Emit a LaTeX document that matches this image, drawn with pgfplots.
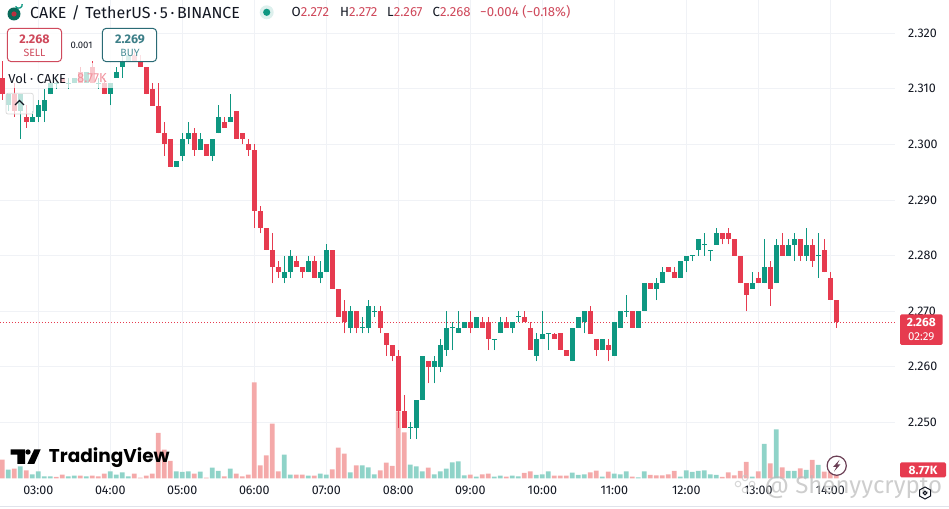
\documentclass[border=0pt]{standalone}
\usepackage{pgfplots}
\pgfplotsset{compat=1.18}
\usepackage{pgfplotstable}
\usepackage{fontspec}
\setmainfont{Fira Sans}
\newfontfamily\logofont{Poppins}
\definecolor{cred}{HTML}{E63B4F}
\definecolor{cgreen}{HTML}{0E9781}
\definecolor{vred}{HTML}{F4A9A9}
\definecolor{vgreen}{HTML}{8FD3C8}
\definecolor{gridc}{HTML}{F0F2F6}
\definecolor{ink}{HTML}{131722}
\definecolor{numred}{HTML}{CF4A5C}
\definecolor{buyline}{HTML}{2A6B75}
\definecolor{buytext}{HTML}{3D7F88}
\definecolor{buytextb}{HTML}{4A8F97}
\definecolor{badge}{HTML}{6B3F55}
\definecolor{sepline}{HTML}{E0E3EB}
\pgfplotstableread{
i o h l c
-6 2.312 2.315 2.308 2.309
-4 2.309 2.311 2.305 2.306
-2 2.305 2.307 2.303 2.304
4 2.312 2.312 2.311 2.311
7 2.313 2.314 2.311 2.311
9 2.314 2.315 2.311 2.311
11 2.311 2.312 2.309 2.309
16 2.316 2.317 2.315 2.315
17 2.315 2.316 2.314 2.314
18 2.314 2.314 2.309 2.309
19 2.310 2.311 2.307 2.307
20 2.307 2.311 2.302 2.302
21 2.302 2.304 2.298 2.300
22 2.301 2.301 2.296 2.296
26 2.302 2.303 2.298 2.299
28 2.300 2.300 2.298 2.298
31 2.304 2.305 2.303 2.303
33 2.306 2.306 2.301 2.301
34 2.302 2.302 2.300 2.301
35 2.300 2.301 2.298 2.299
36 2.299 2.300 2.285 2.288
37 2.288 2.289 2.284 2.285
38 2.285 2.285 2.281 2.281
39 2.281 2.284 2.275 2.278
40 2.278 2.279 2.276 2.277
43 2.279 2.280 2.278 2.278
44 2.278 2.278 2.276 2.277
46 2.279 2.280 2.276 2.276
49 2.281 2.281 2.274 2.274
50 2.274 2.274 2.269 2.269
51 2.270 2.272 2.266 2.268
53 2.270 2.270 2.266 2.267
57 2.270 2.271 2.266 2.267
58 2.266 2.266 2.262 2.264
59 2.264 2.264 2.261 2.262
60 2.262 2.263 2.249 2.252
61 2.252 2.255 2.249 2.249
65 2.261 2.261 2.257 2.260
72 2.268 2.270 2.266 2.267
74 2.268 2.269 2.267 2.267
75 2.268 2.269 2.263 2.265
78 2.268 2.269 2.267 2.267
81 2.269 2.270 2.268 2.268
82 2.267 2.268 2.263 2.263
86 2.266 2.266 2.265 2.265
87 2.266 2.266 2.263 2.263
88 2.263 2.263 2.262 2.262
92 2.270 2.271 2.266 2.266
93 2.265 2.265 2.262 2.263
95 2.264 2.265 2.261 2.263
99 2.270 2.270 2.267 2.267
102 2.275 2.275 2.274 2.274
105 2.278 2.278 2.277 2.277
106 2.277 2.278 2.276 2.276
114 2.284 2.284 2.282 2.283
115 2.284 2.285 2.282 2.283
116 2.283 2.283 2.280 2.280
117 2.280 2.280 2.275 2.275
118 2.275 2.275 2.270 2.273
120 2.276 2.277 2.275 2.275
122 2.278 2.279 2.271 2.274
124 2.282 2.284 2.280 2.280
127 2.283 2.283 2.279 2.280
129 2.282 2.283 2.278 2.279
131 2.281 2.283 2.277 2.277
132 2.276 2.277 2.272 2.272
133 2.272 2.272 2.267 2.268
}\downcandles
\pgfplotstableread{
i o h l c
-5 2.307 2.309 2.306 2.309
-3 2.306 2.309 2.301 2.309
-1 2.304 2.306 2.304 2.305
0 2.305 2.308 2.304 2.307
1 2.306 2.310 2.304 2.308
2 2.309 2.311 2.309 2.311
6 2.311 2.312 2.311 2.312
8 2.311 2.313 2.311 2.313
12 2.309 2.311 2.307 2.311
13 2.312 2.314 2.312 2.313
14 2.314 2.316 2.312 2.315
15 2.315 2.316 2.315 2.316
23 2.296 2.297 2.296 2.297
24 2.298 2.302 2.297 2.301
25 2.301 2.304 2.300 2.302
27 2.299 2.302 2.299 2.301
29 2.298 2.301 2.297 2.301
30 2.302 2.307 2.302 2.305
32 2.304 2.309 2.304 2.305
41 2.276 2.280 2.275 2.277
42 2.277 2.281 2.276 2.280
45 2.277 2.280 2.277 2.279
47 2.276 2.279 2.275 2.277
48 2.277 2.282 2.277 2.281
52 2.267 2.271 2.266 2.270
55 2.267 2.272 2.266 2.271
63 2.249 2.254 2.247 2.254
64 2.254 2.262 2.254 2.262
66 2.260 2.262 2.257 2.261
67 2.260 2.265 2.259 2.264
68 2.263 2.270 2.262 2.267
70 2.266 2.270 2.266 2.267
71 2.267 2.268 2.267 2.268
73 2.267 2.269 2.267 2.269
77 2.266 2.269 2.266 2.268
79 2.267 2.268 2.266 2.268
83 2.262 2.266 2.261 2.265
84 2.265 2.270 2.265 2.266
89 2.261 2.267 2.261 2.267
90 2.267 2.269 2.267 2.269
91 2.268 2.270 2.266 2.270
94 2.263 2.265 2.263 2.265
96 2.262 2.268 2.262 2.268
97 2.267 2.270 2.267 2.270
100 2.267 2.270 2.267 2.270
101 2.270 2.275 2.270 2.275
103 2.274 2.276 2.272 2.275
104 2.275 2.278 2.275 2.277
107 2.276 2.279 2.276 2.279
108 2.279 2.280 2.277 2.280
110 2.281 2.283 2.280 2.283
113 2.282 2.285 2.282 2.284
119 2.274 2.277 2.274 2.275
121 2.275 2.283 2.275 2.278
123 2.275 2.283 2.275 2.282
125 2.280 2.283 2.280 2.282
126 2.282 2.284 2.279 2.283
128 2.280 2.285 2.279 2.282
}\upcandles
\pgfplotstableread{
i p h l
3 2.311 2.312 2.310
5 2.311 2.312 2.310
10 2.311 2.312 2.310
54 2.267 2.269 2.266
56 2.270 2.271 2.269
62 2.249 2.250 2.247
69 2.267 2.268 2.263
76 2.265 2.265 2.263
80 2.269 2.270 2.268
85 2.266 2.266 2.263
98 2.270 2.273 2.269
109 2.280 2.280 2.279
111 2.282 2.284 2.280
112 2.281 2.281 2.279
130 2.280 2.284 2.276
}\dojis
\pgfplotstableread{
i v
-6 29.7
-4 15.4
-2 12.7
3 2.1
4 5.8
7 4.2
9 4.2
10 3.2
11 7.4
16 7.4
17 1.1
18 4.2
19 7.4
20 72.1
21 45.6
22 27.6
26 7.4
28 1.1
31 3.2
33 7.4
34 3.2
35 5.8
36 152.6
37 20.7
38 36.6
39 86.9
40 11.1
43 5.8
44 5.8
46 4.2
49 14.3
50 48.8
51 39.2
53 20.7
57 12.7
58 24.9
59 19.6
60 106.5
61 73.1
65 17
72 5.8
74 6.4
75 7.4
78 2.7
81 8.5
82 11.1
86 4.2
87 4.2
88 4.2
92 9.5
93 12.2
95 10.6
99 2.7
102 5.3
103 4.8
104 4.8
105 6.4
106 11.7
114 2.1
115 9.5
116 4.8
117 11.7
118 26
120 11.1
122 23.9
124 17.5
127 15.9
129 29.2
131 10.6
132 10.6
133 8.77
}\volred
\pgfplotstableread{
i v
-5 13.8
-3 19.1
-1 6.4
0 11.1
1 3.2
2 3.2
5 3.2
6 4.2
8 3.2
12 11.1
13 5.8
14 9.5
15 3.2
23 11.1
24 10.1
25 11.1
27 10.6
29 17
30 11.7
32 15.4
41 37.6
42 5.8
45 4.2
47 7.4
48 5.8
52 9.5
54 20.7
55 17.5
56 6.4
62 21.7
63 19.1
64 11.1
66 6.4
67 11.1
68 15.4
69 25.4
70 27
71 4.8
73 2.7
76 2.7
77 4.2
79 4.2
80 3.2
83 5.3
84 6.4
85 11.1
89 9
90 5.3
91 6.4
94 2.7
96 7.4
97 6.4
98 11.1
100 1.6
101 11.1
107 2.7
108 12.7
109 10.1
110 11.7
111 12.7
112 6.4
113 5.3
119 2.7
121 54.6
123 77.9
125 11.7
126 11.7
128 13.3
130 21.2
}\volgreen
\pgfplotsset{
  chartbase/.style={
    scale only axis, width=895pt, height=478.3pt,
    at={(0pt,29.7pt)}, anchor=south west,
    xmin=-6.383, xmax=142.783,
  },
  pricerange/.style={ymin=2.23995, ymax=2.32597},
}
\begin{document}
\begin{tikzpicture}
\path[use as bounding box] (0pt,0pt) rectangle (949pt,508pt);
% grid, ticks and last-price line
\begin{axis}[chartbase, pricerange,
  axis line style={draw=none},
  major tick length=0pt,
  grid=major, grid style={gridc, line width=0.8pt},
  xtick={0,12,24,36,48,60,72,84,96,108,120,132},
  xticklabels={03:00,04:00,05:00,06:00,07:00,08:00,09:00,10:00,11:00,12:00,13:00,14:00},
  xticklabel style={anchor=base, yshift=-16pt, inner sep=0pt, font=\fontsize{12.5}{14}\selectfont, text=ink},
  ytick={2.25,2.26,2.27,2.28,2.29,2.30,2.31,2.32},
  yticklabel pos=right,
  yticklabel style={anchor=west, xshift=13pt, inner sep=0pt, font=\fontsize{12.5}{14}\selectfont, text=ink,
    /pgf/number format/fixed, /pgf/number format/fixed zerofill, /pgf/number format/precision=3,
    /pgf/number format/assume math mode=true},
  scaled y ticks=false,
]
\addplot[cred, line width=0.9pt, dash pattern=on 1pt off 2pt] coordinates {(-6.383,2.268)(142.783,2.268)};
\end{axis}
% volume
\begin{axis}[chartbase, hide axis, ymin=0, ymax=760.5]
\addplot[ybar, bar width=4.8pt, fill=vred, draw=none] table[x=i,y=v] {\volred};
\addplot[ybar, bar width=4.8pt, fill=vgreen, draw=none] table[x=i,y=v] {\volgreen};
\end{axis}
% candles
\begin{axis}[chartbase, pricerange, hide axis,
  wick/.style={draw=none, mark=none, error bars/.cd, y dir=plus, y explicit, error mark=none,
     error bar style={color=#1, draw=#1, line width=1.1pt, solid}},
  body/.style={draw=none, mark=none, error bars/.cd, y dir=both, y explicit, error mark=none,
     error bar style={color=#1, draw=#1, line width=5pt, solid}},
]
\addplot[wick=cred] table[x=i, y=l, y error plus expr=\thisrow{h}-\thisrow{l}] {\downcandles};
\addplot[body=cred] table[x=i, y expr=(\thisrow{o}+\thisrow{c})/2, y error expr=(\thisrow{o}-\thisrow{c})/2] {\downcandles};
\addplot[wick=cgreen] table[x=i, y=l, y error plus expr=\thisrow{h}-\thisrow{l}] {\upcandles};
\addplot[body=cgreen] table[x=i, y expr=(\thisrow{o}+\thisrow{c})/2, y error expr=(\thisrow{c}-\thisrow{o})/2] {\upcandles};
\addplot[wick=cgreen] table[x=i, y=l, y error plus expr=\thisrow{h}-\thisrow{l}] {\dojis};
\addplot[only marks, mark=-, mark size=2.5pt, mark options={cgreen, line width=1pt}] table[x=i, y=p] {\dojis};
\end{axis}
% overlay furniture, in pixel coordinates
\begin{scope}[shift={(0pt,508pt)}, x=1pt, y=-1pt, every node/.style={inner sep=0pt}]
\draw[sepline, line width=0.8pt] (0,506) -- (949,506);
% faded legend strip
\fill[white, opacity=0.72] (6,63) rectangle (113,88);
% symbol logo
\fill[cgreen!70!black] (14,14) circle (6.5);
\fill[cred!80!black] (14,14) circle (2.6);
\draw[cgreen, line width=1.3pt] (15.5,6.5) arc (150:-10:3.6);
\node[anchor=west, text=ink, font=\fontsize{16}{18}\selectfont] at (30,12.5) {CAKE\,\,/\,\,TetherUS\,·\,5\,·\,BINANCE};
% status dot
\fill[cgreen!14] (266.7,12.3) circle (7);
\fill[cgreen] (266.7,12.3) circle (3.6);
% OHLC
\begin{scope}[every node/.append style={anchor=base west, font=\fontsize{13.2}{15}\selectfont}]
\node[text=ink] at (291.5,17) {O\textcolor{numred}{2.272}};
\node[text=ink] at (340,17) {H\textcolor{numred}{2.272}};
\node[text=ink] at (387,17) {L\textcolor{numred}{2.267}};
\node[text=ink] at (432.5,17) {C\textcolor{numred}{2.268}};
\node[text=numred] at (480,17) {−0.004 (−0.18\%)};
\end{scope}
% sell / buy
\draw[numred, fill=white, fill opacity=0.85, line width=1pt, rounded corners=4pt] (7.3,28.3) rectangle (61.7,61.7);
\node[text=numred, font=\bfseries\fontsize{12.5}{15}\selectfont] at (34.5,39) {2.268};
\node[text=numred, font=\fontsize{10.5}{13}\selectfont] at (34.5,53) {SELL};
\node[text=ink, font=\fontsize{9.5}{12}\selectfont] at (81.5,45.5) {0.001};
\draw[buyline, fill=white, fill opacity=0.85, line width=1pt, rounded corners=4pt] (102.3,28.3) rectangle (156.7,61.7);
\node[text=buytext, font=\bfseries\fontsize{12.5}{15}\selectfont] at (130,39) {2.269};
\node[text=buytextb, font=\fontsize{10.5}{13}\selectfont] at (130,53) {BUY};
% volume legend
\node[anchor=west, text=ink, font=\fontsize{13}{15}\selectfont] at (8.3,78.5) {Vol · CAKE};
\node[anchor=west, text=cred!55!white, font=\fontsize{13}{15}\selectfont] at (77,78.5) {8.77K};
% collapse button
\draw[gray!30, fill=white, fill opacity=0.72, line width=0.7pt, rounded corners=2pt] (6,93.3) rectangle (33.3,114);
\draw[ink, line width=1.1pt] (15,105) -- (19.5,100.5) -- (24,105);
% price labels
\fill[cred, rounded corners=1.5pt] (900,314.3) rectangle (942.7,345);
\node[text=white, font=\bfseries\fontsize{12}{14}\selectfont] at (921.3,322.5) {2.268};
\node[text=white, font=\fontsize{11.5}{14}\selectfont] at (921.3,336.5) {02:29};
\fill[cred, rounded corners=1.5pt] (900,462.3) rectangle (946,477.3);
\node[text=white, font=\bfseries\fontsize{12}{14}\selectfont] at (923,470) {8.77K};
% TradingView mark
\fill[black] (10.7,449.3) -- (25,449.3) -- (25,464) -- (17.4,464) -- (17.4,454.6) -- (10.7,454.6) -- cycle;
\fill[black] (28,452) circle (2.7);
\fill[black] (34.3,449.3) -- (40.7,449.3) -- (34.3,464) -- (27.3,464) -- cycle;
\node[anchor=west, text=black, font=\logofont\fontsize{18.5}{22}\selectfont\bfseries] at (48.7,457.5) {TradingView};
% lightning badge
\draw[badge, fill=white, line width=1.2pt] (836.7,465.7) circle (9.6);
\fill[badge] (839.5,459.8) -- (833.2,466.8) -- (836.4,466.8) -- (834,471.6) -- (840.4,464.4) -- (837.2,464.4) -- cycle;
% watermark
\begin{scope}[gray!45, opacity=0.7, line width=1pt]
\foreach \a/\b in {745/478,738/484,752/484,745/490}{\draw (\a,\b) circle (2.8);}
\node[anchor=west, text=gray!55, font=\fontsize{24}{28}\selectfont] at (764,487) {@ Shenyycrypto};
\end{scope}
% settings hexagon
\draw[ink, line width=1pt] (925,487) -- (930.5,490) -- (930.5,496) -- (925,499) -- (919.5,496) -- (919.5,490) -- cycle;
\draw[ink, line width=1pt] (925,493) circle (1.9);
\end{scope}
\end{tikzpicture}
\end{document}
